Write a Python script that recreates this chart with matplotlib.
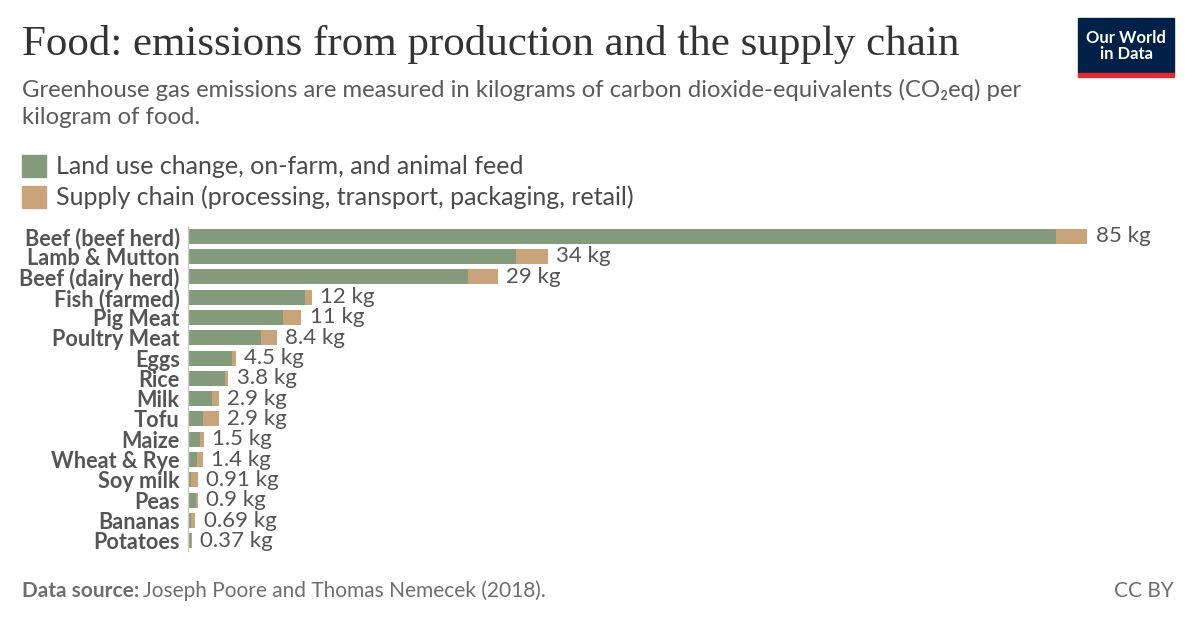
import matplotlib
matplotlib.use("Agg")
from matplotlib import pyplot as plt
from matplotlib.patches import Rectangle

plt.rcParams['font.family'] = ['Lato', 'DejaVu Sans']

FOODS = ['Beef (beef herd)', 'Lamb & Mutton', 'Beef (dairy herd)', 'Fish (farmed)',
         'Pig Meat', 'Poultry Meat', 'Eggs', 'Rice', 'Milk', 'Tofu', 'Maize',
         'Wheat & Rye', 'Soy milk', 'Peas', 'Bananas', 'Potatoes']
FARM = [82.1, 31.0, 26.5, 11.1, 9.0, 6.9, 4.2, 3.5, 2.3, 1.4, 1.1,
        0.85, 0.32, 0.72, 0.24, 0.27]
SUPPLY = [2.9, 3.0, 2.8, 0.6, 1.7, 1.5, 0.3, 0.3, 0.6, 1.5, 0.4,
          0.55, 0.59, 0.18, 0.45, 0.10]
TOTAL_LABELS = ['85 kg', '34 kg', '29 kg', '12 kg', '11 kg', '8.4 kg', '4.5 kg',
                '3.8 kg', '2.9 kg', '2.9 kg', '1.5 kg', '1.4 kg', '0.91 kg',
                '0.9 kg', '0.69 kg', '0.37 kg']

GREEN = '#849b7b'
TAN = '#c9a47a'
W, H = 1200, 627


def fy(px):
    return 1 - px / H


fig = plt.figure(figsize=(12, 6.27), dpi=100)
fig.patch.set_facecolor('white')

ax = fig.add_axes([188 / W, fy(551), 952 / W, 325 / H])
ypos = list(range(len(FOODS)))
ax.barh(ypos, FARM, height=0.74, color=GREEN, linewidth=0)
ax.barh(ypos, SUPPLY, left=FARM, height=0.74, color=TAN, linewidth=0)
for i, lab in enumerate(TOTAL_LABELS):
    ax.text(FARM[i] + SUPPLY[i] + 0.8, i, lab, va='center', ha='left',
            fontsize=16, color='#555555')
ax.set_xlim(0, 90)
ax.set_ylim(len(FOODS) - 0.5, -0.5)
ax.set_yticks(ypos)
ax.set_yticklabels(FOODS, fontsize=15.6, fontweight='bold', color='#555555')
ax.tick_params(axis='y', length=0, pad=6)
ax.set_xticks([])
for s in ['top', 'right', 'bottom']:
    ax.spines[s].set_visible(False)
ax.spines['left'].set_color('#cccccc')
ax.spines['left'].set_linewidth(1)

# title and subtitle
fig.text(22 / W, fy(45), 'Food: emissions from production and the supply chain',
         family=['Liberation Serif', 'DejaVu Serif'], fontsize=31, color='#333333',
         va='center', ha='left')
fig.text(22 / W, fy(90), 'Greenhouse gas emissions are measured in kilograms of carbon '
         'dioxide-equivalents (CO\u2082eq) per', fontsize=17.2, color='#5b5b5b',
         va='center', ha='left')
fig.text(22 / W, fy(118), 'kilogram of food.', fontsize=17.2, color='#5b5b5b',
         va='center', ha='left')

# legend
for yc, col, txt in [(166, GREEN, 'Land use change, on-farm, and animal feed'),
                     (197, TAN, 'Supply chain (processing, transport, packaging, retail)')]:
    fig.patches.append(Rectangle((22 / W, fy(yc + 11)), 24 / W, 22 / H, color=col,
                                 transform=fig.transFigure, figure=fig))
    fig.text(56 / W, fy(yc), txt, fontsize=18, color='#4a4a4a', va='center', ha='left')

# logo
fig.patches.append(Rectangle((1078 / W, fy(73)), 96 / W, 55 / H, color='#002147',
                             transform=fig.transFigure, figure=fig))
fig.patches.append(Rectangle((1078 / W, fy(77)), 96 / W, 4 / H, color='#dc2f2f',
                             transform=fig.transFigure, figure=fig))
fig.text(1126 / W, fy(46), 'Our World\nin Data', fontsize=12, fontweight='bold',
         color='white', ha='center', va='center', linespacing=1.0)

# footer
t = fig.text(22 / W, fy(591), 'Data source:', fontsize=15, fontweight='bold',
             color='#6e6e6e', va='center', ha='left')
fig.canvas.draw()
bb = t.get_window_extent()
fig.text(bb.x1 / W + 4 / W, fy(591), 'Joseph Poore and Thomas Nemecek (2018).',
         fontsize=15, color='#6e6e6e', va='center', ha='left')
fig.text(1174 / W, fy(591), 'CC BY', fontsize=15, color='#6e6e6e', va='center', ha='right')

fig.savefig('out.png', dpi=100)
